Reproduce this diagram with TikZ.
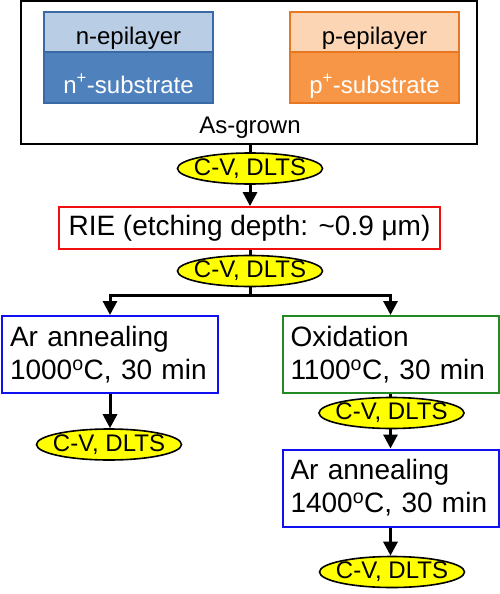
\documentclass[tikz,border=0pt]{standalone}
\usepackage{fontspec}
\setmainfont{Liberation Sans}
\usetikzlibrary{arrows.meta,shapes.geometric}
\definecolor{nlight}{HTML}{B9CDE5}
\definecolor{ndark}{HTML}{4F81BD}
\definecolor{nborder}{HTML}{3A6AA6}
\definecolor{plight}{HTML}{FCD5B5}
\definecolor{pdark}{HTML}{F79646}
\definecolor{pborder}{HTML}{E87722}
\definecolor{rieRed}{HTML}{F01010}
\definecolor{annBlue}{HTML}{1010F0}
\definecolor{oxGreen}{HTML}{238A23}
\definecolor{ellYellow}{HTML}{FFFF00}
\begin{document}
\begin{tikzpicture}[x=1pt,y=-1pt,
  meas/.style={ellipse,draw=black,line width=1.6pt,fill=ellYellow,minimum width=145pt,minimum height=31pt,inner sep=0pt,font=\fontsize{24}{27}\selectfont},
  procbox/.style={draw,line width=2pt,minimum width=216pt,minimum height=77pt,text width=200pt,inner xsep=8pt,align=left,font=\fontsize{28}{33}\selectfont},
  conn/.style={line width=3pt},
  arr/.style={conn,-{Triangle[width=14pt,length=14pt]}},
  layer/.style={draw,line width=1.6pt,minimum width=169pt,inner sep=0pt},
  lbl/.style={anchor=base,font=\fontsize{24}{28}\selectfont,inner sep=0pt}
]
\useasboundingbox (0,0) rectangle (500,594);
% As-grown box
\node[draw,line width=2pt,minimum width=456pt,minimum height=143pt,inner sep=0pt] (grown) at (249,72.5) {};
\node[layer,fill=nlight,draw=nborder,minimum height=40pt] (nepi) at (128.5,32) {};
\node[layer,fill=ndark,draw=nborder,minimum height=51pt] (nsub) at (128.5,77.5) {};
\node[layer,fill=plight,draw=pborder,minimum height=40pt] (pepi) at (374.5,32) {};
\node[layer,fill=pdark,draw=pborder,minimum height=51pt] (psub) at (374.5,77.5) {};
\node[lbl] (nepit) at (128.5,45) {n-epilayer};
\node[lbl,text=white] (nsubt) at (128.5,93) {n\textsuperscript{+}-substrate};
\node[lbl] (pepit) at (374.5,45) {p-epilayer};
\node[lbl,text=white] (psubt) at (374.5,93) {p\textsuperscript{+}-substrate};
\node[lbl] (asg) at (250,133) {As-grown};
% measurement 1
\node[meas] (m1) at (250,168.5) {\makebox[0pt]{C-V, DLTS}};
% RIE
\node[draw=rieRed,line width=1.8pt,minimum width=381pt,minimum height=42pt,inner sep=0pt,font=\fontsize{28}{32}\selectfont] (rie) at (249.5,228) {RIE (etching depth: \textasciitilde 0.9 μm)};
\node[meas] (m2) at (250,271) {\makebox[0pt]{C-V, DLTS}};
% branches
\node[procbox,draw=annBlue] (ar1) at (110,354.5) {Ar annealing\\1000\textsuperscript{o}C, 30 min};
\node[procbox,draw=oxGreen] (ox) at (390.5,354.5) {Oxidation\\1100\textsuperscript{o}C, 30 min};
\node[meas] (m5) at (109,444.5) {\makebox[0pt]{C-V, DLTS}};
\node[meas] (m3) at (391.5,413) {\makebox[0pt]{C-V, DLTS}};
\node[procbox,draw=annBlue] (ar2) at (390.5,488) {Ar annealing\\1400\textsuperscript{o}C, 30 min};
\node[meas] (m4) at (392,572) {\makebox[0pt]{C-V, DLTS}};
% connectors
\draw[conn] (m1.north |- grown.south) -- (m1.north);
\draw[arr] (m1.south) -- (m1.south |- rie.north);
\draw[conn] (m2.north |- rie.south) -- (m2.north);
\coordinate (split) at (250,295);
\draw[conn] (m2.south) -- (split);
\draw[arr] (split) -| (ar1.north);
\draw[arr] (split) -| (ox.north);
\draw[arr] (ar1.south) -- (ar1.south |- m5.north);
\draw[conn] (ox.south) -- (ox.south |- m3.north);
\draw[arr] (m3.south -| ar2.north) -- (ar2.north);
\draw[arr] (ar2.south) -- (ar2.south |- m4.north);
\end{tikzpicture}
\end{document}
